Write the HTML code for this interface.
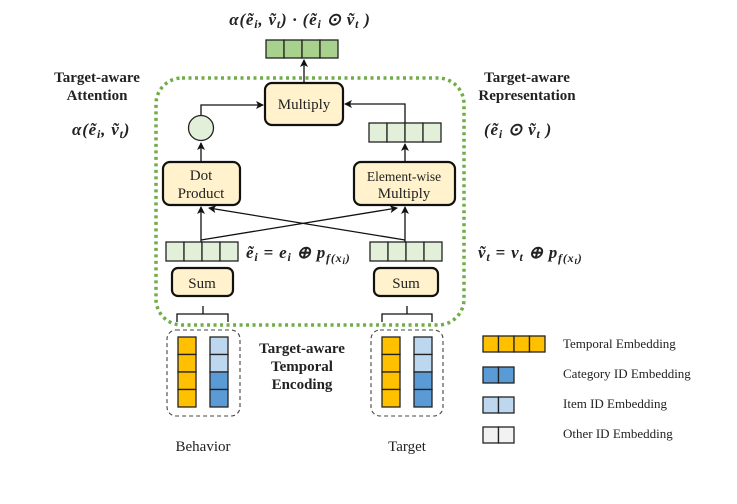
<!DOCTYPE html>
<html><head><style>body{margin:0;background:#fff}svg{display:block}text{font-family:"Liberation Serif",serif;fill:#222}</style></head><body>
<svg width="737" height="504" viewBox="0 0 737 504" xmlns="http://www.w3.org/2000/svg">
<defs><marker id="a" markerWidth="8" markerHeight="8" refX="7" refY="4" orient="auto" markerUnits="userSpaceOnUse"><path d="M0,0 L8,4 L0,8 L2,4 z" fill="#111"/></marker></defs>
<text x="300" y="25" text-anchor="middle" font-size="17" font-style="italic" font-weight="bold" letter-spacing="0.8">α(ẽ<tspan font-size="12" dy="3">i</tspan><tspan dy="-3">, ṽ</tspan><tspan font-size="12" dy="3">t</tspan><tspan dy="-3">) · (ẽ</tspan><tspan font-size="12" dy="3">i</tspan><tspan dy="-3"> ⊙ ṽ</tspan><tspan font-size="12" dy="3">t</tspan><tspan dy="-3"> )</tspan></text>
<g stroke="#222" stroke-width="1.3" fill="#a9d18e"><rect x="266" y="40" width="18" height="18"/><rect x="284" y="40" width="18" height="18"/><rect x="302" y="40" width="18" height="18"/><rect x="320" y="40" width="18" height="18"/></g>
<rect x="156" y="78" width="308" height="247" rx="26" fill="none" stroke="#70ad47" stroke-width="3.5" stroke-dasharray="3,3.5"/>
<line x1="304" y1="83" x2="304" y2="60" stroke="#111" stroke-width="1.3" marker-end="url(#a)"/>
<g stroke="#111" stroke-width="2.2" fill="#fff2cc"><rect x="265" y="83" width="78" height="42" rx="7"/><rect x="163" y="162" width="77" height="43" rx="7"/><rect x="354" y="162" width="101" height="43" rx="7"/><rect x="172" y="268" width="61" height="28" rx="6"/><rect x="374" y="268" width="64" height="28" rx="6"/></g>
<circle cx="201" cy="128" r="12.5" fill="#e2f0d9" stroke="#222" stroke-width="1.3"/>
<g stroke="#222" stroke-width="1.3" fill="#e2f0d9"><rect x="369" y="123" width="18" height="19"/><rect x="387" y="123" width="18" height="19"/><rect x="405" y="123" width="18" height="19"/><rect x="423" y="123" width="18" height="19"/>
<rect x="166" y="242" width="18" height="19"/><rect x="184" y="242" width="18" height="19"/><rect x="202" y="242" width="18" height="19"/><rect x="220" y="242" width="18" height="19"/>
<rect x="370" y="242" width="18" height="19"/><rect x="388" y="242" width="18" height="19"/><rect x="406" y="242" width="18" height="19"/><rect x="424" y="242" width="18" height="19"/></g>
<g stroke="#111" stroke-width="1.3" fill="none">
<polyline points="201,115 201,105 263,105" marker-end="url(#a)"/>
<polyline points="405,123 405,104 345,104" marker-end="url(#a)"/>
<line x1="201" y1="162" x2="201" y2="143" marker-end="url(#a)"/>
<line x1="405" y1="162" x2="405" y2="144" marker-end="url(#a)"/>
<line x1="201" y1="242" x2="201" y2="207" marker-end="url(#a)"/>
<line x1="405" y1="242" x2="405" y2="207" marker-end="url(#a)"/>
<line x1="201" y1="240" x2="397" y2="208" marker-end="url(#a)"/>
<line x1="405" y1="240" x2="209" y2="208" marker-end="url(#a)"/>
<path d="M177,322 L177,314 L203,314 L203,306 M203,314 L228,314 L228,322"/>
<path d="M382,322 L382,314 L407,314 L407,306 M407,314 L432,314 L432,322"/>
</g>
<g font-size="15"><text x="201" y="180" text-anchor="middle">Dot</text><text x="201" y="198" text-anchor="middle">Product</text>
<text x="304" y="109" text-anchor="middle">Multiply</text>
<text x="404" y="181" text-anchor="middle" font-size="13.5">Element-wise</text><text x="404" y="198" text-anchor="middle">Multiply</text>
<text x="202" y="288" text-anchor="middle">Sum</text><text x="406" y="288" text-anchor="middle">Sum</text>
<text x="203" y="451" text-anchor="middle">Behavior</text><text x="407" y="451" text-anchor="middle">Target</text></g>
<g font-size="15" font-weight="bold" text-anchor="middle"><text x="97" y="82">Target-aware</text><text x="97" y="100">Attention</text>
<text x="527" y="82">Target-aware</text><text x="527" y="100">Representation</text>
<text x="302" y="353">Target-aware</text><text x="302" y="371">Temporal</text><text x="302" y="389">Encoding</text></g>
<g font-size="17" font-style="italic" font-weight="bold" letter-spacing="0.8">
<text x="72" y="135">α(ẽ<tspan font-size="12" dy="3">i</tspan><tspan dy="-3">, ṽ</tspan><tspan font-size="12" dy="3">t</tspan><tspan dy="-3">)</tspan></text>
<text x="484" y="135">(ẽ<tspan font-size="12" dy="3">i</tspan><tspan dy="-3"> ⊙ ṽ</tspan><tspan font-size="12" dy="3">t</tspan><tspan dy="-3"> )</tspan></text>
<text x="246" y="258">ẽ<tspan font-size="12" dy="3">i</tspan><tspan dy="-3"> = e</tspan><tspan font-size="12" dy="3">i</tspan><tspan dy="-3"> ⊕ p</tspan><tspan font-size="12" dy="4">f(x</tspan><tspan font-size="9" dy="2">i</tspan><tspan font-size="12" dy="-2">)</tspan></text>
<text x="478" y="258">ṽ<tspan font-size="12" dy="3">t</tspan><tspan dy="-3"> = v</tspan><tspan font-size="12" dy="3">t</tspan><tspan dy="-3"> ⊕ p</tspan><tspan font-size="12" dy="4">f(x</tspan><tspan font-size="9" dy="2">t</tspan><tspan font-size="12" dy="-2">)</tspan></text></g>
<g fill="none" stroke="#444" stroke-width="1.1" stroke-dasharray="4,3"><rect x="167" y="330" width="73" height="86" rx="9"/><rect x="371" y="330" width="72" height="86" rx="9"/></g>
<g stroke="#222" stroke-width="1.3">
<g fill="#ffc000"><rect x="178" y="337" width="18" height="17.5"/><rect x="178" y="354.5" width="18" height="17.5"/><rect x="178" y="372" width="18" height="17.5"/><rect x="178" y="389.5" width="18" height="17.5"/>
<rect x="382" y="337" width="18" height="17.5"/><rect x="382" y="354.5" width="18" height="17.5"/><rect x="382" y="372" width="18" height="17.5"/><rect x="382" y="389.5" width="18" height="17.5"/>
<rect x="483" y="336" width="15.5" height="16"/><rect x="498.5" y="336" width="15.5" height="16"/><rect x="514" y="336" width="15.5" height="16"/><rect x="529.5" y="336" width="15.5" height="16"/></g>
<g fill="#bdd7ee"><rect x="210" y="337" width="18" height="17.5"/><rect x="210" y="354.5" width="18" height="17.5"/><rect x="414" y="337" width="18" height="17.5"/><rect x="414" y="354.5" width="18" height="17.5"/>
<rect x="483" y="397" width="15.5" height="16"/><rect x="498.5" y="397" width="15.5" height="16"/></g>
<g fill="#5b9bd5"><rect x="210" y="372" width="18" height="17.5"/><rect x="210" y="389.5" width="18" height="17.5"/><rect x="414" y="372" width="18" height="17.5"/><rect x="414" y="389.5" width="18" height="17.5"/>
<rect x="483" y="367" width="15.5" height="16"/><rect x="498.5" y="367" width="15.5" height="16"/></g>
<g fill="#f2f2f2"><rect x="483" y="427" width="15.5" height="16"/><rect x="498.5" y="427" width="15.5" height="16"/></g></g>
<g font-size="13"><text x="563" y="348">Temporal Embedding</text><text x="563" y="378">Category ID Embedding</text><text x="563" y="408">Item ID Embedding</text><text x="563" y="438">Other ID Embedding</text></g>
</svg></body></html>
